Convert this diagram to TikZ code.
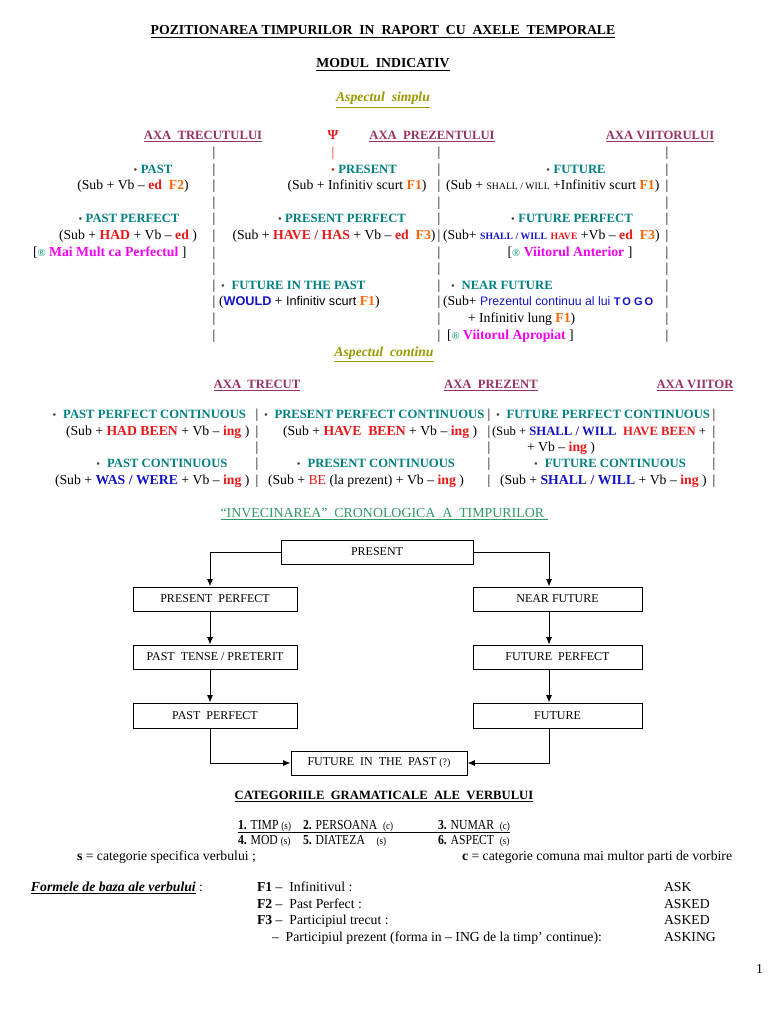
\documentclass[tikz,border=0pt]{standalone}
\usepackage{fontspec}
\setmainfont{Liberation Serif}
\setsansfont{Liberation Sans}
\newfontfamily\condf[FakeStretch=0.85]{Liberation Serif}
\usetikzlibrary{arrows.meta}
\definecolor{cteal}{RGB}{0,128,128}
\definecolor{cmaroon}{RGB}{153,51,102}
\definecolor{colive}{RGB}{153,153,0}
\definecolor{cred}{RGB}{235,25,25}
\definecolor{corange}{RGB}{255,102,0}
\definecolor{cblue}{RGB}{20,20,200}
\definecolor{cmag}{RGB}{240,0,240}
\definecolor{cgreen}{RGB}{51,153,102}
\definecolor{creg}{RGB}{0,150,120}
\newcommand\xB{\textcolor{black!75}{\fontsize{8}{9}\selectfont •}}
\newcommand\xT[1]{\textcolor{cteal}{\fontsize{9.5}{11}\selectfont\bfseries #1}}
\newcommand\xR[1]{\textcolor{cred}{\bfseries #1}}
\newcommand\xO[1]{\textcolor{corange}{\bfseries #1}}
\newcommand\xBl[1]{\textcolor{cblue}{\bfseries #1}}
\newcommand\xM[1]{\textcolor{cmag}{\bfseries #1}}
\newcommand\xS[1]{{\fontsize{7.3}{8}\selectfont #1}}
\newcommand\xreg{\textcolor{creg}{\fontsize{8}{9}\selectfont ®}}
\newcommand\xsm[1]{{\fontsize{8}{9}\selectfont #1}}
\begin{document}
\begin{tikzpicture}[x=0.75pt,y=-0.75pt,
  T/.style={inner sep=0pt, outer sep=0pt, font=\fontsize{10.3}{12}\selectfont},
  AX/.style={T, text=cmaroon, font=\fontsize{9.5}{11}\selectfont\bfseries},
  CT/.style={T, font=\condf\fontsize{10.3}{12}\selectfont},
  fbox/.style={draw, line width=0.75pt, inner sep=0pt, minimum height=18pt, font=\fontsize{9}{10}\selectfont},
  arr/.style={-{Latex[length=5.5pt,width=4.5pt]}, line width=0.75pt}]
\useasboundingbox[fill=white] (0,0) rectangle (768,1024);

% titles
\node[T,anchor=base] (title) at (383,35) {\bfseries\underline{POZITIONAREA TIMPURILOR\ \ IN\ \ RAPORT\ \ CU\ \ AXELE\ \ TEMPORALE}};
\node[T,anchor=base] (modul) at (383,68) {\bfseries\underline{MODUL\ \ INDICATIV}};
\node[T,anchor=base,text=colive] (asimplu) at (383,102) {\bfseries\itshape\underline{Aspectul\ \ simplu}};

% axes headers
\node[AX,anchor=base] (axt) at (203,139) {\underline{AXA\ \ TRECUTULUI}};
\node[T,anchor=base,text=cred] (psi) at (333,139) {\bfseries Ψ};
\node[AX,anchor=base] (axp) at (432,139) {\underline{AXA\ \ PREZENTULUI}};
\node[AX,anchor=base] (axv) at (660,139) {\underline{AXA VIITORULUI}};
\node[T,anchor=base,text=cred] (psibar) at (333,156) {|};

% bars
\foreach \yy in {156,173,189,206,222,239,256,272,289,305,322,339} {
  \node[T,anchor=base] (bl\yy) at (214,\yy) {|};
  \node[T,anchor=base] (bm\yy) at (439,\yy) {|};
  \node[T,anchor=base] (br\yy) at (667,\yy) {|};
}

% left column
\node[T,anchor=base] (past) at (153,173) {\xB\ \xT{PAST}};
\node[T,anchor=base] (pastf) at (133,189) {(Sub + Vb – \xR{ed}\ \ \xO{F2})};
\node[T,anchor=base] (ppf) at (129,222) {\xB\ \xT{PAST PERFECT}};
\node[T,anchor=base] (ppff) at (128,239) {(Sub + \xR{HAD} + Vb – \xR{ed} )};
\node[T,anchor=base west] (mmp) at (33,256) {[\xreg\ \xM{Mai Mult ca Perfectul} ]};

% middle column
\node[T,anchor=base] (pres) at (364,173) {\textcolor{cred}{\fontsize{8}{9}\selectfont •}\ \xT{PRESENT}};
\node[T,anchor=base] (presf) at (357,189) {(Sub + Infinitiv scurt \xO{F1})};
\node[T,anchor=base] (prp) at (342,222) {\xB\ \xT{PRESENT PERFECT}};
\node[T,anchor=base] (prpf) at (334,239) {(Sub + \xR{HAVE / HAS} + Vb – \xR{ed}\ \ \xO{F3})};
\node[T,anchor=base west] (fip) at (221,289) {\xB\ \ \xT{FUTURE IN THE PAST}};
\node[T,anchor=base west] (fipf) at (219,305) {(\textcolor{cblue}{\sffamily\bfseries\fontsize{9.5}{11}\selectfont WOULD} + {\sffamily\fontsize{9.5}{11}\selectfont Infinitiv scurt} \xO{F1})};

% right column
\node[T,anchor=base] (fut) at (576,173) {\xB\ \xT{FUTURE}};
\node[T,anchor=base west] (futf) at (446,189) {(Sub + \xS{SHALL / WILL} +Infinitiv scurt \xO{F1})};
\node[T,anchor=base] (fp) at (572,222) {\xB\ \xT{FUTURE PERFECT}};
\node[T,anchor=base west] (fpf) at (443,239) {(Sub+ \textcolor{cblue}{\bfseries\xS{SHALL / WILL}} \textcolor{cred}{\bfseries\xS{HAVE}} +Vb – \xR{ed}\ \ \xO{F3})};
\node[T,anchor=base] (va) at (570,256) {[\xreg\ \xM{Viitorul Anterior} ]};
\node[T,anchor=base west] (nf) at (451,289) {\xB\ \ \xT{NEAR FUTURE}};
\node[T,anchor=base west] (nff) at (443,305) {(Sub+ \textcolor{cblue}{\sffamily\fontsize{9.2}{11}\selectfont Prezentul\ continuu al lui} \textcolor{cblue}{\sffamily\bfseries\fontsize{8.3}{10}\selectfont T\,O\ G\,O}};
\node[T,anchor=base west] (nff2) at (468,322) {+ Infinitiv lung \xO{F1})};
\node[T,anchor=base west] (vap) at (447,339) {[\xreg\ \xM{Viitorul Apropiat} ]};

\node[T,anchor=base,text=colive] (acont) at (384,356) {\bfseries\itshape\underline{Aspectul\ \ continu}};

% continuous section
\node[AX,anchor=base] (axt2) at (257,388) {\underline{AXA\ \ TRECUT}};
\node[AX,anchor=base] (axp2) at (491,388) {\underline{AXA\ \ PREZENT}};
\node[AX,anchor=base] (axv2) at (695,388) {\underline{AXA VIITOR}};

\foreach \yy in {418,435,451,467,484} {
  \node[T,anchor=base] (cl\yy) at (257,\yy) {|};
  \node[T,anchor=base] (cm\yy) at (489,\yy) {|};
  \node[T,anchor=base] (cr\yy) at (714,\yy) {|};
}
\node[T,anchor=base east] (ppc) at (246,418) {\xB\ \ \xT{PAST PERFECT CONTINUOUS}};
\node[T,anchor=base west] (prpc) at (264,418) {\xB\ \ \xT{PRESENT PERFECT CONTINUOUS}};
\node[T,anchor=base west] (fpc) at (496,418) {\xB\ \ \xT{FUTURE PERFECT CONTINUOUS}};
\node[T,anchor=base west] (ppcf) at (66,435) {(Sub + \xR{HAD BEEN} + Vb – \xR{ing} )};
\node[T,anchor=base west] (prpcf) at (283,435) {(Sub + \xR{HAVE\ \ BEEN} + Vb – \xR{ing} )};
\node[T,anchor=base west,font=\fontsize{9.5}{11}\selectfont] (fpcf) at (492,435) {(Sub + \xBl{SHALL / WILL}\ \ \xR{HAVE BEEN} +};
\node[T,anchor=base west] (fpcf2) at (527,451) {+ Vb – \xR{ing} )};
\node[T,anchor=base] (pc) at (162,467) {\xB\ \ \xT{PAST CONTINUOUS}};
\node[T,anchor=base] (prc) at (376,467) {\xB\ \ \xT{PRESENT CONTINUOUS}};
\node[T,anchor=base] (fc) at (610,467) {\xB\ \ \xT{FUTURE CONTINUOUS}};
\node[T,anchor=base west] (pcf) at (55,484) {(Sub + \xBl{WAS / WERE} + Vb – \xR{ing} )};
\node[T,anchor=base west] (prcf) at (268,484) {(Sub + \textcolor{cred}{BE} (la prezent) + Vb – \xR{ing} )};
\node[T,anchor=base west] (fcf) at (500,484) {(Sub + \xBl{SHALL / WILL} + Vb – \xR{ing} )};

% invecinarea
\node[T,anchor=base,text=cgreen,font=\fontsize{10.4}{12}\selectfont] (inv) at (384,517) {\underline{“INVECINAREA”\ \ CRONOLOGICA\ \ A\ \ TIMPURILOR\ }};

% flowchart
\node[fbox, minimum width=144pt] (present) at (377,552) {PRESENT};
\node[fbox, minimum width=123pt] (pp) at (215,599) {PRESENT\ \ PERFECT};
\node[fbox, minimum width=126.75pt] (nf2) at (557.5,599) {NEAR FUTURE};
\node[fbox, minimum width=123pt] (pt) at (215,657) {PAST\ \ TENSE / PRETERIT};
\node[fbox, minimum width=126.75pt] (fpb) at (557.5,657) {FUTURE\ \ PERFECT};
\node[fbox, minimum width=123pt, minimum height=18.75pt] (pfb) at (215,715.5) {PAST\ \ PERFECT};
\node[fbox, minimum width=126.75pt, minimum height=18.75pt] (fub) at (557.5,715.5) {FUTURE};
\node[fbox, minimum width=132pt] (fipb) at (379,763) {FUTURE\ \ IN\ \ THE\ \ PAST {\fontsize{7.5}{8}\selectfont(?)}};
\coordinate (lx) at (210,0);
\coordinate (rx) at (549,0);
\draw[arr] (present.west) -| (lx |- pp.north);
\draw[arr] (present.east) -| (rx |- nf2.north);
\draw[arr] (lx |- pp.south) -- (lx |- pt.north);
\draw[arr] (lx |- pt.south) -- (lx |- pfb.north);
\draw[arr] (lx |- pfb.south) |- (fipb.west);
\draw[arr] (rx |- nf2.south) -- (rx |- fpb.north);
\draw[arr] (rx |- fpb.south) -- (rx |- fub.north);
\draw[arr] (rx |- fub.south) |- (fipb.east);

% categories
\node[T,anchor=base,font=\fontsize{9.5}{11}\selectfont\bfseries] (cat) at (384,799) {\underline{CATEGORIILE\ \ GRAMATICALE\ \ ALE\ \ VERBULUI}};
\node[CT,anchor=base west] (c1) at (238,829) {\textbf{1.} TIMP \xsm{(s)}};
\node[CT,anchor=base west] (c2) at (303,829) {\textbf{2.} PERSOANA\ \ \xsm{(c)}};
\node[CT,anchor=base west] (c3) at (438,829) {\textbf{3.} NUMAR\ \ \xsm{(c)}};
\coordinate (ul1) at (238,832);
\draw[line width=0.6pt] (ul1) -- (ul1 -| c3.east);
\node[CT,anchor=base west] (c4) at (238,844) {\textbf{4.} MOD \xsm{(s)}};
\node[CT,anchor=base west] (c5) at (303,844) {\textbf{5.} DIATEZA\ \ \ \ \xsm{(s)}};
\node[CT,anchor=base west] (c6) at (438,844) {\textbf{6.} ASPECT\ \ \xsm{(s)}};
\node[T,anchor=base west] (sdef) at (77,860) {\textbf{s} = categorie specifica verbului ;};
\node[T,anchor=base west] (cdef) at (462,860) {\textbf{c} = categorie comuna mai multor parti de vorbire};

% formele
\node[T,anchor=base west] (form) at (31,891) {\textbf{\textit{\underline{Formele de baza ale verbului}}} :};
\node[T,anchor=base west] (f1) at (257,891) {\textbf{F1} –\ \ Infinitivul :};
\node[T,anchor=base west] (f2) at (257,908) {\textbf{F2} –\ \ Past Perfect :};
\node[T,anchor=base west] (f3) at (257,924) {\textbf{F3} –\ \ Participiul trecut :};
\node[T,anchor=base west] (f4) at (272,941) {–\ \ Participiul prezent (forma in – ING de la timp’ continue):};
\node[T,anchor=base west] (a1) at (664,891) {ASK};
\node[T,anchor=base west] (a2) at (664,908) {ASKED};
\node[T,anchor=base west] (a3) at (664,924) {ASKED};
\node[T,anchor=base west] (a4) at (664,941) {ASKING};
\node[T,anchor=base east] (pnum) at (763,973) {1};
\end{tikzpicture}
\end{document}
